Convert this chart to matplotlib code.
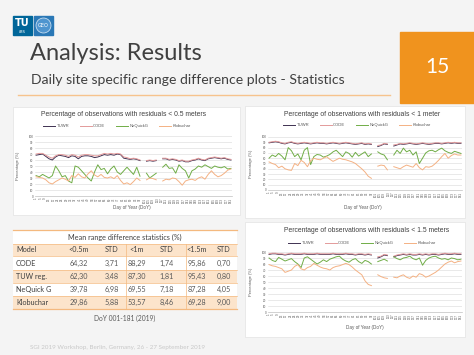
import numpy as np
import matplotlib.pyplot as plt
from matplotlib.patches import Rectangle, Circle

W, H = 474, 355
nan = np.nan

# day of year, one value every third day (DoY 001-181, 2019)
doy = list(range(1, 182, 3))
tick_doy = list(range(1, 182, 4))

series_names = ['TUWR', 'CODE', 'NeQuickG', 'Klobuchar']
series_colors = ['#3f3151', '#e39a9a', '#70ad47', '#f4b183']

# percentage of observations with residuals < 0.5 m
tuwr_05 = [68, 69, 70, 66, 62, 60, 65, 68, 67, 66, 64, 67, 66, 62, 66, 67, 67, 66, 64, 65,
           67, 69, 68, 69, 68, 70, 69, 63, 62, 61, 62,
           61, 59, nan, 58, 59, 58, 59, nan, 62, 62, 60, 61, 60, 58, 59, 57, 57, 59, 60, 62,
           60, 59, 62, 63, 64, 63, 62, 63, 61, 60]
code_05 = [70, 71, 71, 68, 65, 63, 67, 69, 69, 68, 66, 69, 68, 65, 68, 69, 69, 68, 67, 67,
           69, 71, 70, 71, 70, 71, 70, 65, 64, 62, 63,
           62, 60, nan, 59, 60, 59, 60, nan, 63, 63, 61, 62, 61, 59, 60, 58, 58, 60, 61, 63,
           61, 60, 63, 64, 65, 64, 63, 64, 62, 61]
neq_05 = [34, 32, 36, 33, 30, 34, 50, 42, 32, 34, 25, 22, 50, 48, 42, 36, 30, 25, 40, 52,
          44, 46, 37, 45, 50, 40, 36, 42, 48, 42, 36,
          48, 33, nan, 38, 30, 34, 38, nan, 48, 53, 46, 47, 38, 52, 46, 42, 30, 42, 45, 50,
          48, 52, 49, 46, 50, 48, 47, 49, 45, 46]
klo_05 = [32, 31, 30, 27, 22, 20, 24, 27, 30, 28, 25, 34, 31, 37, 32, 30, 37, 42, 35, 32,
          36, 31, 30, 32, 29, 34, 26, 20, 22, 19, 24,
          30, 26, nan, 27, 30, 29, 27, nan, 25, 28, 27, 30, 29, 24, 18, 25, 27, 28, 26, 30,
          32, 28, 36, 42, 36, 32, 34, 38, 43, 45]

# residuals < 1 m
tuwr_1 = [89, 90, 91, 90, 88, 87, 89, 90, 88, 87, 88, 89, 88, 87, 88, 89, 88, 88, 87, 88,
          89, 88, 87, 88, 89, 88, 87, 86, 87, 88, 86,
          87, 86, nan, 82, 84, 87, 86, nan, 83, 85, 87, 86, 87, 88, 87, 86, 87, 88, 87, 86,
          87, 88, 88, 87, 88, 89, 88, 89, 88, 88]
code_1 = [90, 91, 92, 91, 89, 88, 90, 91, 89, 88, 89, 90, 89, 88, 89, 90, 89, 89, 88, 89,
          90, 89, 88, 89, 90, 89, 88, 87, 88, 89, 87,
          88, 87, nan, 84, 85, 88, 87, nan, 85, 86, 88, 87, 88, 89, 88, 87, 88, 89, 88, 87,
          88, 89, 89, 88, 89, 90, 89, 90, 89, 89]
neq_1 = [60, 66, 63, 69, 64, 57, 80, 74, 63, 68, 57, 75, 80, 48, 63, 67, 66, 62, 64, 67,
         72, 75, 69, 63, 72, 69, 62, 71, 64, 68, 72,
         63, 68, nan, 72, 68, 66, 57, nan, 66, 75, 69, 79, 72, 75, 66, 72, 50, 60, 70, 74,
         75, 72, 76, 79, 74, 71, 69, 73, 71, 69]
klo_1 = [53, 50, 48, 42, 45, 40, 38, 37, 50, 46, 56, 52, 44, 55, 60, 58, 57, 60, 63, 58,
         54, 57, 60, 58, 57, 55, 53, 50, 45, 40, 34,
         26, 22, nan, 45, 47, 46, 38, nan, 44, 42, 40, 44, 47, 45, 43, 50, 42, 38, 44, 43,
         45, 50, 56, 63, 69, 60, 65, 68, 66, 66]

# residuals < 1.5 m
tuwr_15 = [96, 97, 97, 96, 96, 95, 96, 97, 96, 96, 96, 97, 96, 96, 96, 97, 96, 96, 96, 96,
           97, 96, 96, 96, 97, 96, 96, 95, 96, 96, 95,
           96, 95, nan, 90, 92, 95, 94, nan, 92, 94, 95, 96, 95, 96, 95, 95, 96, 95, 96, 95,
           96, 96, 95, 96, 97, 96, 96, 97, 96, 96]
code_15 = [97, 98, 98, 97, 97, 96, 97, 98, 97, 97, 97, 98, 97, 97, 97, 98, 97, 97, 97, 97,
           98, 97, 97, 97, 98, 97, 97, 96, 97, 97, 96,
           97, 96, nan, 92, 93, 96, 95, nan, 93, 95, 96, 97, 96, 97, 96, 96, 97, 96, 97, 96,
           97, 97, 96, 97, 98, 97, 97, 98, 97, 97]
neq_15 = [90, 86, 84, 91, 88, 85, 87, 89, 84, 80, 74, 90, 92, 88, 84, 80, 83, 87, 84, 88,
          90, 92, 93, 88, 85, 83, 87, 89, 84, 81, 86,
          84, 80, nan, 84, 86, 88, 85, nan, 92, 89, 87, 90, 91, 93, 89, 87, 90, 78, 86, 90,
          92, 93, 90, 88, 89, 87, 90, 89, 87, 88]
klo_15 = [79, 77, 76, 74, 72, 66, 68, 70, 76, 79, 72, 70, 74, 76, 81, 78, 75, 73, 72, 70,
          74, 76, 77, 79, 81, 79, 75, 70, 66, 62, 52,
          46, 44, nan, 62, 59, 57, 56, nan, 58, 57, 60, 62, 58, 56, 60, 58, 64, 62, 58, 60,
          63, 66, 70, 75, 80, 83, 85, 82, 84, 85]

# table: mean range difference statistics (%)
table_models = ['CODE', 'TUW reg.', 'NeQuick G', 'Klobuchar']
table_header = ['Model', '<0.5m', 'STD', '<1m', 'STD', '<1.5m', 'STD']
mean_05 = [64.32, 62.30, 39.78, 29.86]
std_05 = [3.71, 3.48, 6.98, 5.88]
mean_1 = [88.29, 87.30, 69.55, 53.57]
std_1 = [1.74, 1.81, 7.18, 8.46]
mean_15 = [95.86, 95.43, 87.28, 69.28]
std_15 = [0.70, 0.80, 4.05, 9.00]

SLIDE_FONT = 'Lato'
CHART_FONT = 'Liberation Sans'

fig = plt.figure(figsize=(W / 100, H / 100), dpi=100)
fig.patch.set_facecolor('#f4f4f4')

# background axes in pixel coordinates
bg = fig.add_axes([0, 0, 1, 1])
bg.set_xlim(0, W)
bg.set_ylim(H, 0)
bg.axis('off')


def px_axes(x0, y0, x1, y1):
    return fig.add_axes([x0 / W, 1 - y1 / H, (x1 - x0) / W, (y1 - y0) / H])


# logo
bg.add_patch(Rectangle((13, 16), 19, 19, color='#006699'))
bg.text(22.5, 23.5, 'TU', color='white', fontsize=7, fontweight='bold',
        ha='center', va='center', family='DejaVu Sans')
bg.text(22.5, 32, 'WIEN', color='white', fontsize=1.8, ha='center', va='center')
bg.add_patch(Rectangle((34, 16), 19, 19, color='#2a78b6'))
bg.add_patch(Circle((43.5, 25.5), 7.5, fc='#4f95cf', ec='#dcebf7', lw=0.5))
bg.text(43.5, 25.5, 'GEO', color='white', fontsize=3.6, ha='center', va='center')

# headings
bg.text(30, 53, 'Analysis: Results', fontsize=17, color='#404040',
        family=SLIDE_FONT, ha='left', va='center')
bg.text(31, 80, 'Daily site specific range difference plots - Statistics',
        fontsize=10.1, color='#404040', family=SLIDE_FONT, ha='left', va='center')
bg.plot([18, 390], [95, 95], color='#f6c38d', lw=1)

bg.add_patch(Rectangle((400, 32), 74, 71, color='#f0931e'))
bg.text(437, 67, '15', color='white', fontsize=15, family=SLIDE_FONT,
        ha='center', va='center')


def draw_chart(panel, box, title, title_xy, legend_xy, xlabel_xy, ylabel_x, data):
    bg.add_patch(Rectangle((panel[0], panel[1]), panel[2] - panel[0], panel[3] - panel[1],
                           fc='white', ec='#e3e3e3', lw=0.5))
    ax = px_axes(*box)
    ax.set_facecolor('white')
    lines = []
    for vals, name, col in zip(data, series_names, series_colors):
        ln, = ax.plot(doy, vals, color=col, lw=0.7, label=name)
        lines.append(ln)
    ax.set_xlim(0, 182)
    ax.set_ylim(0, 100)
    ax.set_yticks(range(0, 101, 10))
    ax.set_xticks(tick_doy)
    ax.set_xticklabels([str(d) for d in tick_doy], rotation=90)
    ax.grid(axis='y', color='#d9d9d9', lw=0.4)
    ax.set_axisbelow(True)
    for s in ['top', 'right', 'left']:
        ax.spines[s].set_visible(False)
    ax.spines['bottom'].set_color('#bfbfbf')
    ax.spines['bottom'].set_linewidth(0.5)
    ax.tick_params(axis='both', length=0, labelsize=2.2, colors='#595959', pad=1.2)
    for lab in ax.get_xticklabels() + ax.get_yticklabels():
        lab.set_family(CHART_FONT)

    bg.text(title_xy[0], title_xy[1], title, fontsize=4.9, color='#404040',
            family=CHART_FONT, ha='center', va='center')
    bg.text(xlabel_xy[0], xlabel_xy[1], 'Day of Year (DoY)', fontsize=3.3, color='#595959',
            family=CHART_FONT, ha='center', va='center')
    bg.text(ylabel_x, (box[1] + box[3]) / 2, 'Percentage (%)', fontsize=3.0, color='#595959',
            family=CHART_FONT, ha='center', va='center', rotation=90)
    leg = ax.legend(handles=lines, ncol=4, loc='center',
                    bbox_to_anchor=(legend_xy[0] / W, 1 - legend_xy[1] / H),
                    bbox_transform=fig.transFigure, frameon=False,
                    prop={'family': CHART_FONT, 'size': 3.0},
                    handlelength=2.8, columnspacing=2.6, handletextpad=0.4)
    for t in leg.get_texts():
        t.set_color('#595959')
    return ax


draw_chart((13, 107, 240, 215), (35, 136, 232, 196),
           'Percentage of observations with residuals < 0.5 meters',
           (124, 115), (117, 126), (132, 208), 18,
           [tuwr_05, code_05, neq_05, klo_05])
draw_chart((245, 106, 465, 218), (268, 137, 462, 190),
           'Percentage of observations with residuals < 1 meter',
           (362, 115), (357, 125), (363, 208), 251,
           [tuwr_1, code_1, neq_1, klo_1])
draw_chart((245, 222, 465, 337), (268, 252, 462, 312),
           'Percentage of observations with residuals < 1.5 meters',
           (367, 231), (362, 243), (365, 327), 251,
           [tuwr_15, code_15, neq_15, klo_15])

# table
row_edges = [230, 244, 256, 270, 283, 296, 309]
tab_x0, tab_x1 = 13, 237
col_centers = [16, 79, 112, 137, 167, 197, 224]
tan = '#fce4cb'
line_col = '#f4b97f'
row_fills = ['white', tan, 'white', tan, 'white', tan]
for k, fc in enumerate(row_fills):
    bg.add_patch(Rectangle((tab_x0, row_edges[k]), tab_x1 - tab_x0,
                           row_edges[k + 1] - row_edges[k], fc=fc, ec='none'))
for k, yv in enumerate(row_edges):
    bg.plot([tab_x0, tab_x1], [yv, yv], color=line_col, lw=0.9 if k in (0, 6) else 0.5)
for xv in [126, 186]:
    bg.plot([xv, xv], [row_edges[1], row_edges[-1]], color=line_col, lw=0.5)

bg.text(125, (row_edges[0] + row_edges[1]) / 2, 'Mean range difference statistics (%)',
        fontsize=5.2, color='#404040', family=SLIDE_FONT, ha='center', va='center')
hy = (row_edges[1] + row_edges[2]) / 2
for j, lab in enumerate(table_header):
    bg.text(col_centers[j], hy, lab, fontsize=5.2, color='#404040', family=SLIDE_FONT,
            ha='left' if j == 0 else 'center', va='center')

columns = [mean_05, std_05, mean_1, std_1, mean_15, std_15]
for r, model in enumerate(table_models):
    yc = (row_edges[r + 2] + row_edges[r + 3]) / 2
    bg.text(col_centers[0], yc, model, fontsize=5.2, color='#404040', family=SLIDE_FONT,
            ha='left', va='center')
    for j, col in enumerate(columns):
        txt = f'{col[r]:.2f}'.replace('.', ',')
        bg.text(col_centers[j + 1], yc, txt, fontsize=5.2, color='#595959',
                family=SLIDE_FONT, ha='center', va='center')

bg.text(125, 318, 'DoY 001-181 (2019)', fontsize=4.8, color='#595959',
        family=SLIDE_FONT, ha='center', va='center')
bg.text(30, 347, 'SGI 2019 Workshop, Berlin, Germany, 26 - 27 September 2019',
        fontsize=4.5, color='#c8c8c8', family=SLIDE_FONT, ha='left', va='center')

fig.savefig('out.png', dpi=100, facecolor=fig.get_facecolor())
